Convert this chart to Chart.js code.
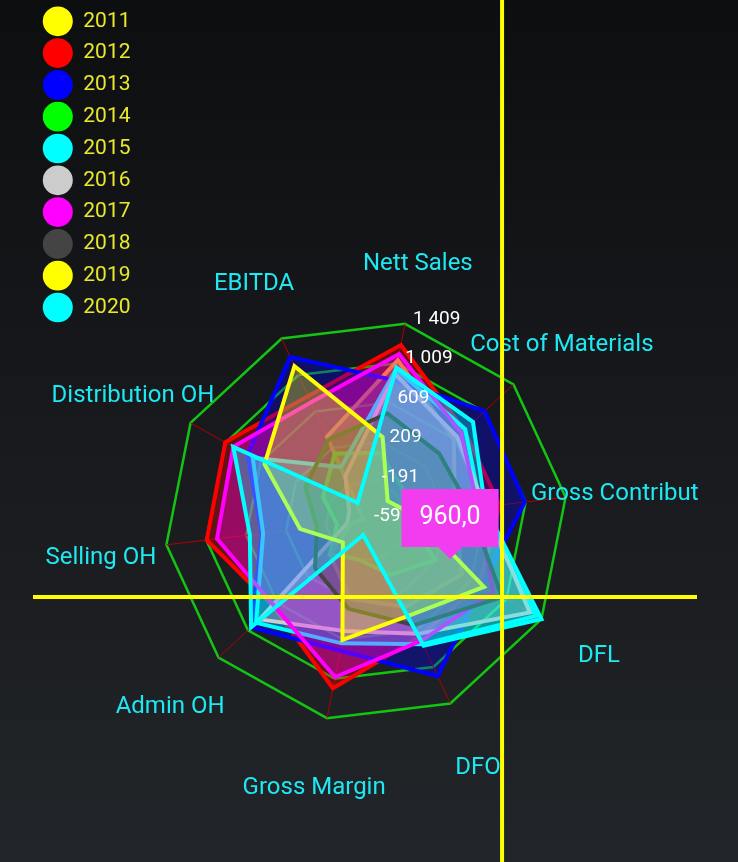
<!DOCTYPE html>
<html lang="en">
<head>
<meta charset="UTF-8">
<title>Radar 2011-2020</title>
<script src="https://cdn.jsdelivr.net/npm/chart.js"></script>
<style>
  html, body { margin: 0; padding: 0; }
  body {
    width: 738px;
    height: 862px;
    overflow: hidden;
    background: linear-gradient(#0d0e10, #222529);
  }
  canvas { display: block; }
</style>
</head>
<body>
<canvas id="radar" width="738" height="862"></canvas>
<script>
// categories (clockwise from the top)
const categories = ['Nett Sales', 'Cost of Materials', 'Gross Contribution', 'DFL', 'DFO',
                    'Gross Margin', 'Admin OH', 'Selling OH', 'Distribution OH', 'EBITDA'];
const years = ['2011', '2012', '2013', '2014', '2015', '2016', '2017', '2018', '2019', '2020'];
const yearColors = ['#ffff00', '#ff0000', '#0000ff', '#00ff00', '#00ffff',
                    '#cccccc', '#ff00ff', '#444444', '#ffff00', '#00ffff'];

// values, one array per year
const v2011 = [1040, 600, 300, 500, 350, 200, -100, -450, -560, 334];
const v2012 = [1194, 740, 750, 700, 680, 1106, 664, 1005, 1013, 780];
const v2013 = [838, 1017, 1001, 730, 1110, 725, 965, 454, 760, 1207];
const v2014 = [100, -100, -200, 200, 0, -200, -100, -300, -100, 150];
const v2015 = [950, 754, 560, 1345, 760, 650, 900, 440, 700, 0];
const v2016 = [900, 643, 600, 1276, 646, 524, 850, -400, -400, -100];
const v2017 = [1103, 700, 530, 860, 722, 992, 653, 902, 922, 711];
const v2018 = [500, 400, 450, 960, 550, 300, 100, -100, 100, 300];
const v2019 = [260, -297, -100, 754, 444, 614, -277, 70, 566, 1106];
const v2020 = [966, 860, 603, 1409, 777, -449, 967, 573, 922, -392];

// radial axis ticks
const tickMin = -591;
const tickMax = 1409;
const tickStep = 400;

// highlighted entry (marker + crosshair)
const markedYear = '2018';
const markedCategory = 'DFL';

const series = [v2011, v2012, v2013, v2014, v2015, v2016, v2017, v2018, v2019, v2020];

function withAlpha(hex, a) {
  const n = parseInt(hex.slice(1), 16);
  return 'rgba(' + (n >> 16) + ',' + ((n >> 8) & 255) + ',' + (n & 255) + ',' + a + ')';
}

function spaced(v) {
  const s = Math.abs(v).toString().replace(/\B(?=(\d{3})+(?!\d))/g, ' ');
  return (v < 0 ? '-' : '') + s;
}

const datasets = years.map((y, i) => ({
  label: y,
  data: series[i],
  order: years.length - i,          // later years drawn on top
  borderColor: yearColors[i],
  backgroundColor: withAlpha(yearColors[i], 0.33),
  pointBackgroundColor: yearColors[i],
  pointBorderWidth: 0,
  pointRadius: 0,
  pointHoverRadius: 0,
  borderWidth: 4,
  fill: 'start'
}));

Chart.Tooltip.positioners.marker = function (items) {
  if (!items.length) return false;
  const el = items[0].element;
  return { x: el.x - 52, y: el.y - 38 };
};

// horizontal tick labels and centred category labels
const axisText = {
  id: 'axisText',
  afterDatasetsDraw(chart) {
    const scale = chart.scales.r;
    const ctx = chart.ctx;
    ctx.save();
    ctx.font = '19px Roboto';
    ctx.fillStyle = '#ffffff';
    ctx.textAlign = 'left';
    ctx.textBaseline = 'alphabetic';
    scale.ticks.forEach(t => {
      const p = scale.getPointPositionForValue(0, t.value);
      ctx.fillText(spaced(t.value), p.x + 8, p.y);
    });
    ctx.beginPath();
    ctx.rect(0, 0, 698, chart.height);
    ctx.clip();
    ctx.font = '24px Roboto';
    ctx.fillStyle = '#1ee8f2';
    ctx.textAlign = 'center';
    ctx.textBaseline = 'middle';
    categories.forEach((c, i) => {
      const p = scale.getPointPosition(i, scale.drawingArea + 66);
      ctx.fillText(c, p.x, p.y + 5);
    });
    ctx.restore();
  }
};

// yellow highlight lines through the marked entry
const crosshair = {
  id: 'crosshair',
  afterDatasetsDraw(chart) {
    const scale = chart.scales.r;
    const di = years.indexOf(markedYear);
    const ci = categories.indexOf(markedCategory);
    const p = scale.getPointPositionForValue(ci, series[di][ci]);
    const ctx = chart.ctx;
    ctx.save();
    ctx.strokeStyle = '#ffff00';
    ctx.lineWidth = 4;
    ctx.beginPath();
    ctx.moveTo(p.x, 0);
    ctx.lineTo(p.x, chart.height);
    ctx.moveTo(33, p.y);
    ctx.lineTo(697, p.y);
    ctx.stroke();
    ctx.restore();
  }
};

const chart = new Chart(document.getElementById('radar'), {
  type: 'radar',
  data: { labels: categories, datasets: datasets },
  options: {
    responsive: false,
    animation: false,
    events: [],
    layout: { padding: { left: 32 } },
    scales: {
      r: {
        min: tickMin,
        max: tickMax,
        startAngle: 11.2,
        ticks: { stepSize: tickStep, display: false },
        pointLabels: { display: false },
        grid: { color: '#14c414', lineWidth: 2.5 },
        angleLines: { color: '#b00000', lineWidth: 1 },
        afterFit(scale) {
          scale.xCenter = 366;
          scale.yCenter = 521;
          scale.drawingArea = 201;
        }
      }
    },
    plugins: {
      legend: {
        position: 'chartArea',
        align: 'start',
        labels: {
          usePointStyle: true,
          pointStyle: 'circle',
          pointStyleWidth: 30,
          padding: 10.8,
          color: '#e8e82c',
          font: { family: 'Roboto', size: 21 },
          sort: (a, b) => a.datasetIndex - b.datasetIndex
        }
      },
      tooltip: {
        position: 'marker',
        xAlign: 'center',
        yAlign: 'bottom',
        backgroundColor: '#f23cf0',
        bodyColor: '#ffffff',
        bodyFont: { family: 'Roboto', size: 25 },
        displayColors: false,
        cornerRadius: 0,
        caretSize: 12,
        caretPadding: 0,
        borderWidth: 0,
        padding: { top: 14, bottom: 14, left: 18, right: 18 },
        callbacks: {
          title: () => [],
          label: ctx => ctx.parsed.r.toFixed(1).replace('.', ',')
        }
      }
    }
  },
  plugins: [axisText, crosshair]
});

chart.tooltip.setActiveElements([{
  datasetIndex: years.indexOf(markedYear),
  index: categories.indexOf(markedCategory)
}], { x: 0, y: 0 });
chart.draw();
</script>
</body>
</html>
